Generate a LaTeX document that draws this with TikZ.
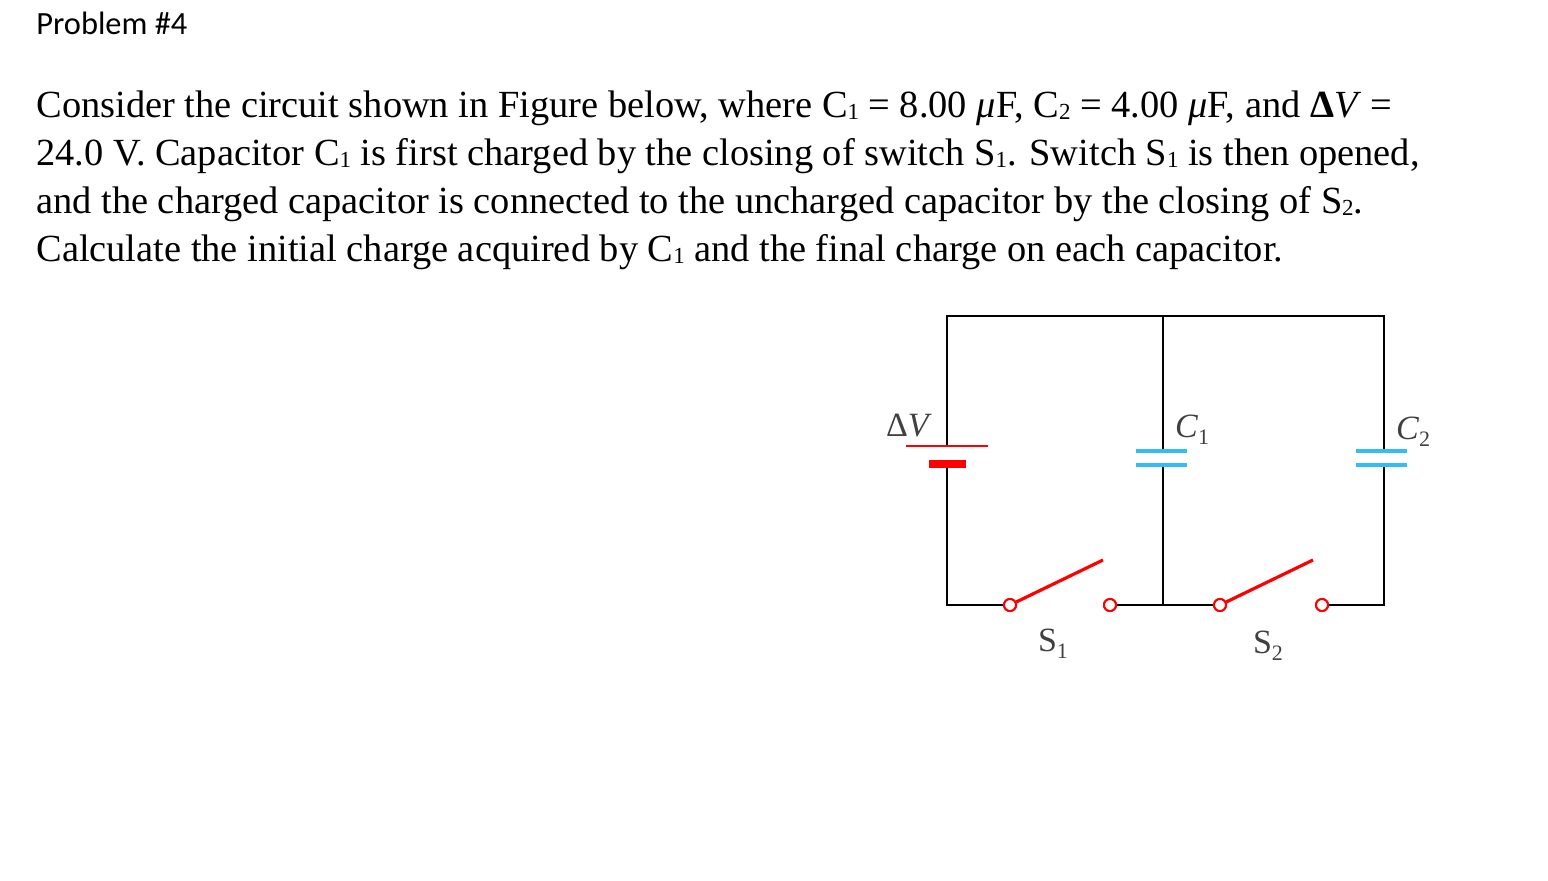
\documentclass[tikz,border=0pt]{standalone}
\usepackage{fontspec}
\setmainfont{Liberation Serif}
\newfontfamily\carlitofont{Carlito}
\newcommand{\sbs}[1]{\raisebox{-0.15ex}{\fontsize{11.5}{11.5}\selectfont #1}}
\newcommand{\lsbs}[1]{\raisebox{-0.45ex}{\fontsize{11}{11}\selectfont #1}}
\begin{document}
\begin{tikzpicture}[x=0.5pt,y=-0.5pt,
  wire/.style={line width=1.1pt,black},
  redw/.style={red,line width=1.6pt},
  capw/.style={cyan!80!white,line width=1.6pt},
  contact/.style={circle,draw=red,line width=1pt,fill=white,inner sep=0pt,minimum size=6pt},
  txt/.style={anchor=base west,inner sep=0pt,font=\fontsize{19.2}{19.2}\selectfont},
  lab/.style={font=\fontsize{17}{17}\selectfont,text=black!75}]
\useasboundingbox (0,0) rectangle (1548,880);
\node[anchor=base west,inner sep=0pt,font=\carlitofont\fontsize{16.2}{16.2}\selectfont] (title) at (36,34) {Problem \#4};
\node[txt] (l1) at (36,117) {Consider the circuit shown in Figure below, where C\sbs{1} = 8.00 \textit{μ}F, C\sbs{2} = 4.00 \textit{μ}F, and \textbf{Δ}\textit{V} =};
\node[txt] (l2) at (36,165) {24.0 V. Capacitor C\sbs{1} is first charged by the closing of switch S\sbs{1}. Switch S\sbs{1} is then opened,};
\node[txt] (l3) at (36,213) {and the charged capacitor is connected to the uncharged capacitor by the closing of S\sbs{2}.};
\node[txt] (l4) at (36,261) {Calculate the initial charge acquired by C\sbs{1} and the final charge on each capacitor.};
% coordinates
\coordinate (tl) at (947,316); \coordinate (tm) at (1163,316); \coordinate (tr) at (1384,316);
\coordinate (bl) at (947,605); \coordinate (bm) at (1163,605); \coordinate (br) at (1384,605);
\coordinate (bp) at (947,446); \coordinate (bn) at (947,464);
\coordinate (c1a) at (1163,451); \coordinate (c1b) at (1163,465);
\coordinate (c2a) at (1384,451); \coordinate (c2b) at (1384,465);
\node[contact] (s1a) at (1010,605) {}; \node[contact] (s1b) at (1110,605) {};
\node[contact] (s2a) at (1220,605) {}; \node[contact] (s2b) at (1322,605) {};
\coordinate (s1t) at (1103,560); \coordinate (s2t) at (1313,560);
% wires
\draw[wire] (bp) -- (tl) -- (tr) -- (c2a);
\draw[wire] (tm) -- (c1a);
\draw[wire] (c1b) -- (bm);
\draw[wire] (c2b) -- (br) -- (s2b);
\draw[wire] (bn) -- (bl) -- (s1a);
\draw[wire] (s1b) -- (s2a);
% battery
\draw[red,line width=1.2pt] (906,446) -- (988,446);
\draw[red,line width=4pt] (929,464) -- (966,464);
% capacitors
\draw[capw] (1136,451) -- (1187,451); \draw[capw] (1136,465) -- (1187,465);
\draw[capw] (1356,451) -- (1407,451); \draw[capw] (1356,465) -- (1407,465);
% switches
\draw[redw] (s1a) -- (s1t);
\draw[redw] (s2a) -- (s2t);
\node[contact] at (s1a) {}; \node[contact] at (s1b) {};
\node[contact] at (s2a) {}; \node[contact] at (s2b) {};
% labels
\node[lab] (dv) at (909,426) {Δ\textit{V}};
\node[lab] (lc1) at (1192,430) {\textit{C}\lsbs{1}};
\node[lab] (lc2) at (1413,432) {\textit{C}\lsbs{2}};
\node[lab] (ls1) at (1053,644) {S\lsbs{1}};
\node[lab] (ls2) at (1268,646) {S\lsbs{2}};
\end{tikzpicture}
\end{document}
